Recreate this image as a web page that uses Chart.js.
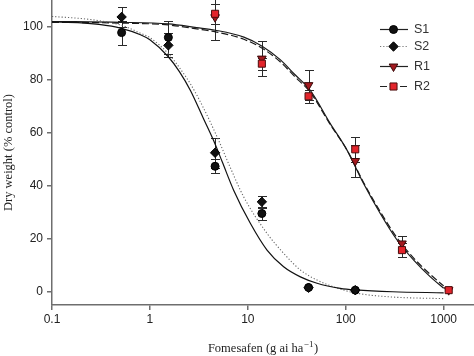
<!DOCTYPE html>
<html><head><meta charset="utf-8">
<script src="https://cdn.jsdelivr.net/npm/chart.js@4.4.1/dist/chart.umd.min.js"></script>
<style>html,body{margin:0;padding:0;background:#fff}#wrap{width:474px;height:356px}</style>
</head><body><div id="wrap"><canvas id="c" width="474" height="356"></canvas></div>
<script>
// Doses (g ai ha-1)
const doseS = [0.514, 1.543, 4.63, 13.9, 41.7, 125];
const doseR = [4.63, 13.9, 41.7, 125, 375, 1125];
// Means and standard errors (% of control)
const s1Mean = [97.7, 95.9, 47.3, 29.5, 1.6, 0.6];
const s1Err  = [4.5, 6.1, 2.7, 2.5, 0, 0];
const s2Mean = [103.6, 92.9, 52.4, 33.9, 1.5, 0.6];
const s2Err  = [3.8, 4.5, 5.7, 2.3, 0, 0];
const r1Mean = [103.5, 87.9, 77.9, 49.3, 18.2, 0.6];
const r1Err  = [8.7, 6.5, 5.7, 6.2, 2.9, 0];
const r2Mean = [104.8, 86.0, 73.7, 53.7, 15.7, 0.6];
const r2Err  = [3.8, 2.3, 2.5, 4.7, 2.7, 0];
// Fitted curves
const s1CurveX = [0.1,0.2,0.3,0.5,0.8,1,1.54,2,2.6,3.5,4.47,5.5,7.16,10.6,15.7,23.2,34.4,50.9,88,127,300,1000];
const s1CurveY = [101.8,101.4,100.8,99.4,96.9,95,88.6,83,75.8,65.5,57,48.8,38.3,25.8,15.7,9.4,5.6,3.2,1.3,0.7,0,-0.4];
const s2CurveX = [0.1,0.2,0.3,0.5,0.8,1,1.54,2,2.6,3.5,5.03,6.5,9.06,15.7,23.2,34.4,50.9,80,127,300,1000];
const s2CurveY = [103.8,103,102.2,100.6,97.5,95.8,89.8,84.5,78.3,69.5,57.1,47.5,35.8,22,14.5,8.2,4.4,1.5,-0.5,-2,-2.6];
const r1CurveX = [0.1,0.5,1.54,3,4.67,9.1,14,21.4,30,43.4,69.5,103,152,225,334,494,731,1000];
const r1CurveY = [101.9,101.6,101,99.6,98.6,96,92.6,87.5,82,75.9,63.4,53.4,40.8,29.5,19.5,11.9,5.6,1.3];
const r2CurveX = [0.1,0.5,1.54,3,4.67,9.1,14,21.4,30,43.4,69.5,103,152,225,334,494,731,1000];
const r2CurveY = [101.6,101.3,100.6,99.1,98,95.2,91.8,86.7,81.2,75.2,63,53.4,41.2,30.2,20.3,12.7,6.5,2.2];
// Axis ticks
const xTicks = [0.1, 1, 10, 100, 1000];
const yTicks = [0, 20, 40, 60, 80, 100];
const seriesNames = ['S1', 'S2', 'R1', 'R2'];

const pts = (xs, ys) => xs.map((x, i) => ({x: x, y: ys[i]}));

const axisColor = '#6e6e6e';
const tickFont = {family: '"Liberation Sans", Arial, sans-serif', size: 12};

const S1 = {label: seriesNames[0], data: pts(doseS, s1Mean), errors: s1Err, showLine: false,
  pointStyle: 'circle', pointRadius: 4, pointBackgroundColor: '#111', pointBorderColor: '#000', pointBorderWidth: 1, order: 4,
  legendLine: {dash: [], color: '#222'}};
const S2 = {label: seriesNames[1], data: pts(doseS, s2Mean), errors: s2Err, showLine: false,
  pointStyle: 'rectRot', pointRadius: 4.7, pointBackgroundColor: '#111', pointBorderColor: '#000', pointBorderWidth: 1, order: 3,
  legendLine: {dash: [1.2, 2], color: '#777'}};
const R1 = {label: seriesNames[2], data: pts(doseR, r1Mean), errors: r1Err, showLine: false,
  pointStyle: 'triangle', rotation: 180, pointRadius: 5, pointBackgroundColor: '#a3191f', pointBorderColor: '#3a0a0a', pointBorderWidth: 1, order: 2,
  legendLine: {dash: [], color: '#222'}};
const R2 = {label: seriesNames[3], data: pts(doseR, r2Mean), errors: r2Err, showLine: false,
  pointStyle: 'rect', pointRadius: 5, pointBackgroundColor: '#e3242b', pointBorderColor: '#4a0d0d', pointBorderWidth: 1, order: 1,
  legendLine: {dash: [7, 3], color: '#222'}};

const curve = (xs, ys, color, dash, w) => ({data: pts(xs, ys), showLine: true, pointRadius: 0, borderColor: color,
  borderWidth: w, borderDash: dash, fill: false, tension: 0.4, cubicInterpolationMode: 'monotone', order: 10, isCurve: true});

const errorBars = {
  id: 'errorBars',
  beforeDatasetsDraw(chart) {
    const ctx = chart.ctx, xs = chart.scales.x, ys = chart.scales.y;
    ctx.save();
    ctx.strokeStyle = '#2a2a2a';
    ctx.lineWidth = 1;
    chart.data.datasets.forEach(ds => {
      if (!ds.errors) return;
      ds.data.forEach((p, i) => {
        const e = ds.errors[i];
        if (!e) return;
        const x = Math.round(xs.getPixelForValue(p.x)) + 0.5;
        const yt = Math.round(ys.getPixelForValue(p.y + e)) + 0.5;
        const yb = Math.round(ys.getPixelForValue(p.y - e)) + 0.5;
        ctx.beginPath();
        ctx.moveTo(x, yt); ctx.lineTo(x, yb);
        ctx.moveTo(x - 4.5, yt); ctx.lineTo(x + 4.5, yt);
        ctx.moveTo(x - 4.5, yb); ctx.lineTo(x + 4.5, yb);
        ctx.stroke();
      });
    });
    ctx.restore();
  }
};

function drawMarker(ctx, style, r, x, y, fill, stroke, rot) {
  ctx.beginPath();
  if (style === 'circle') {
    ctx.arc(x, y, r, 0, Math.PI * 2);
  } else if (style === 'rectRot') {
    ctx.moveTo(x - r, y); ctx.lineTo(x, y - r); ctx.lineTo(x + r, y); ctx.lineTo(x, y + r); ctx.closePath();
  } else if (style === 'rect') {
    const s = Math.SQRT1_2 * r;
    ctx.rect(x - s, y - s, 2 * s, 2 * s);
  } else if (style === 'triangle') {
    const a = (rot || 0) * Math.PI / 180;
    for (let k = 0; k < 3; k++) {
      const ang = a + k * 2 * Math.PI / 3;
      const px = x + Math.sin(ang) * r, py = y - Math.cos(ang) * r;
      if (k === 0) ctx.moveTo(px, py); else ctx.lineTo(px, py);
    }
    ctx.closePath();
  }
  ctx.fillStyle = fill; ctx.fill();
  ctx.lineWidth = 1; ctx.strokeStyle = stroke; ctx.stroke();
}

const legendAndTitle = {
  id: 'legendAndTitle',
  afterDraw(chart) {
    const ctx = chart.ctx;
    ctx.save();
    // legend
    const entries = [S1, S2, R1, R2];
    const ly = [29.5, 46.5, 66.5, 86.5];
    entries.forEach((ds, i) => {
      const y = ly[i];
      ctx.beginPath();
      ctx.setLineDash(ds.legendLine.dash);
      ctx.strokeStyle = ds.legendLine.color;
      ctx.lineWidth = 1.2;
      ctx.moveTo(380, y); ctx.lineTo(408, y);
      ctx.stroke();
      ctx.setLineDash([]);
      drawMarker(ctx, ds.pointStyle, ds.pointRadius, 393.5, y, ds.pointBackgroundColor, ds.pointBorderColor, ds.rotation);
      ctx.fillStyle = '#333';
      ctx.font = '12.5px "Liberation Sans", Arial, sans-serif';
      ctx.textBaseline = 'middle';
      ctx.textAlign = 'left';
      ctx.fillText(ds.label, 414, y + 0.5);
    });
    // x axis title with superscript
    const ca = chart.chartArea;
    const main = 'Fomesafen (g ai ha', sup = '\u22121', close = ')';
    const f1 = '12.5px "Liberation Serif", "Times New Roman", serif';
    const f2 = '9px "Liberation Serif", "Times New Roman", serif';
    ctx.font = f1; const w1 = ctx.measureText(main).width, w3 = ctx.measureText(close).width;
    ctx.font = f2; const w2 = ctx.measureText(sup).width;
    const total = w1 + w2 + w3 + 1;
    let x = (ca.left + ca.right) / 2 - total / 2;
    const base = 352;
    ctx.fillStyle = '#222';
    ctx.textBaseline = 'alphabetic';
    ctx.textAlign = 'left';
    ctx.font = f1; ctx.fillText(main, x, base); x += w1 + 0.5;
    ctx.font = f2; ctx.fillText(sup, x, base - 5.5); x += w2 + 0.5;
    ctx.font = f1; ctx.fillText(close, x, base);
    ctx.restore();
  }
};

new Chart(document.getElementById('c'), {
  type: 'line',
  data: {
    datasets: [
      curve(s1CurveX, s1CurveY, '#111', [], 1.2),
      curve(s2CurveX, s2CurveY, '#666', [1.2, 2], 1.1),
      curve(r1CurveX, r1CurveY, '#1a1a1a', [], 1.2),
      curve(r2CurveX, r2CurveY, '#1a1a1a', [7, 3], 1.2),
      S1, S2, R1, R2
    ]
  },
  options: {
    responsive: false,
    animation: false,
    devicePixelRatio: 1,
    layout: {padding: 0, autoPadding: false},
    plugins: {legend: {display: false}, tooltip: {enabled: false}, title: {display: false}},
    scales: {
      x: {
        type: 'logarithmic', min: 0.1, max: 2040,
        afterBuildTicks: s => { s.ticks = xTicks.map(v => ({value: v})); },
        afterFit: s => { s.height = 51; s.paddingLeft = 0; s.paddingRight = 0; },
        ticks: {font: tickFont, color: '#222', padding: 2, maxRotation: 0, autoSkip: false,
          callback: v => String(v)},
        grid: {display: true, drawOnChartArea: false, drawTicks: true, tickLength: 5, color: axisColor, lineWidth: 1.5},
        border: {display: true, color: axisColor, width: 1.5},
        title: {display: false}
      },
      y: {
        type: 'linear', min: -5, max: 110,
        afterBuildTicks: s => { s.ticks = yTicks.map(v => ({value: v})); },
        afterFit: s => { s.width = 52; s.paddingTop = 0; s.paddingBottom = 0; },
        ticks: {font: tickFont, color: '#222', padding: 4, callback: v => String(v)},
        grid: {display: true, drawOnChartArea: false, drawTicks: true, tickLength: 5, color: axisColor, lineWidth: 1.5},
        border: {display: true, color: axisColor, width: 1.5},
        title: {display: true, text: 'Dry weight (% control)', color: '#222', padding: {top: 1, bottom: 0},
          font: {family: '"Liberation Serif", "Times New Roman", serif', size: 12.5}}
      }
    }
  },
  plugins: [errorBars, legendAndTitle]
});
</script>
</body></html>
